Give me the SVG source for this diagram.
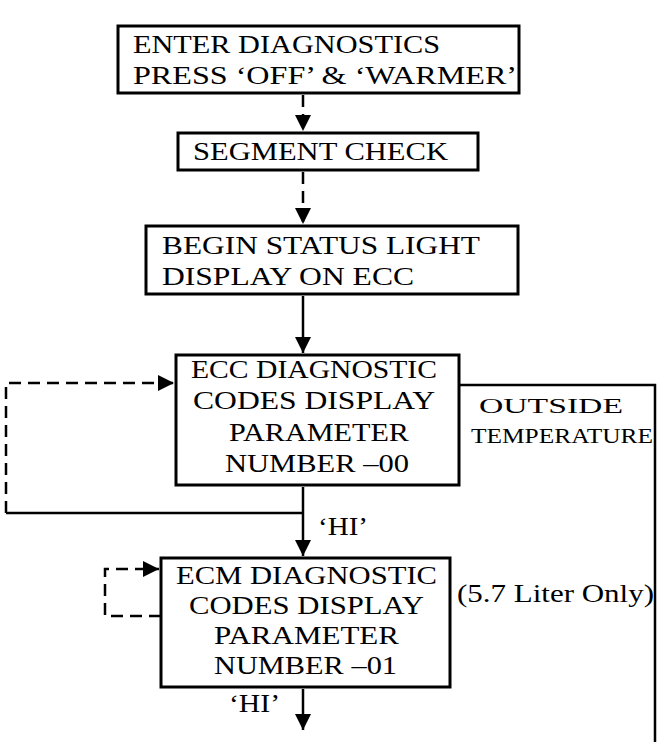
<svg xmlns="http://www.w3.org/2000/svg" width="665" height="752" viewBox="0 0 665 752">
<style>
.b{fill:#fff;stroke:#000;stroke-width:3}
.t{font-family:"Liberation Serif",serif;font-size:25px;fill:#000}
.s{font-size:20px}
.l{fill:none;stroke:#000;stroke-width:2.5}
.d{stroke-dasharray:12,7}
</style>
<defs>
<marker id="ab" viewBox="0 0 10 10" markerWidth="16" markerHeight="16" refX="10" refY="5" orient="auto" markerUnits="userSpaceOnUse"><path d="M0,0L10,5L0,10z"/></marker></defs>
<rect width="665" height="752" fill="#fff"/>
<g id="connectors">
<path class="l d" d="M303,95V131" marker-end="url(#ab)"/>
<path class="l d" d="M303,172V224" marker-end="url(#ab)"/>
<path class="l" d="M303,296V353" marker-end="url(#ab)"/>
<path class="l" d="M303,487V556" marker-end="url(#ab)"/>
<path class="l" d="M303,513H6"/>
<path class="l d" d="M6,513V383H174" marker-end="url(#ab)"/>
<path class="l" d="M459,385H655V742"/>
<path class="l d" d="M161,616H105V569H159" marker-end="url(#ab)"/>
<path class="l" d="M303,689V730" marker-end="url(#ab)"/>
</g>
<g id="n1"><rect class="b" x="118" y="26" width="401" height="67"/><text class="t" x="133" y="53" textLength="307" lengthAdjust="spacingAndGlyphs">ENTER DIAGNOSTICS</text><text class="t" x="133" y="84" textLength="384" lengthAdjust="spacingAndGlyphs">PRESS ‘OFF’ &amp; ‘WARMER’</text></g>
<g id="n2"><rect class="b" x="178" y="133" width="300" height="37"/><text class="t" x="193" y="160" textLength="255" lengthAdjust="spacingAndGlyphs">SEGMENT CHECK</text></g>
<g id="n3"><rect class="b" x="146" y="226" width="372" height="68"/><text class="t" x="162" y="254" textLength="318" lengthAdjust="spacingAndGlyphs">BEGIN STATUS LIGHT</text><text class="t" x="162" y="285" textLength="252" lengthAdjust="spacingAndGlyphs">DISPLAY ON ECC</text></g>
<g id="n4"><rect class="b" x="176" y="355" width="283" height="130"/>
<text class="t" x="191" y="378" textLength="246" lengthAdjust="spacingAndGlyphs">ECC DIAGNOSTIC</text>
<text class="t" x="193" y="409" textLength="242" lengthAdjust="spacingAndGlyphs">CODES DISPLAY</text>
<text class="t" x="229" y="441" textLength="180" lengthAdjust="spacingAndGlyphs">PARAMETER</text>
<text class="t" x="225" y="472" textLength="184" lengthAdjust="spacingAndGlyphs">NUMBER –00</text></g>
<g id="n5"><rect class="b" x="161" y="558" width="289" height="129"/>
<text class="t" x="176" y="584" textLength="261" lengthAdjust="spacingAndGlyphs">ECM DIAGNOSTIC</text>
<text class="t" x="189" y="614" textLength="235" lengthAdjust="spacingAndGlyphs">CODES DISPLAY</text>
<text class="t" x="214" y="644" textLength="185" lengthAdjust="spacingAndGlyphs">PARAMETER</text>
<text class="t" x="214" y="674" textLength="183" lengthAdjust="spacingAndGlyphs">NUMBER –01</text></g>
<g id="labels">
<text class="t s" x="479" y="413" textLength="144" lengthAdjust="spacingAndGlyphs">OUTSIDE</text>
<text class="t s" x="471" y="443" textLength="182" lengthAdjust="spacingAndGlyphs">TEMPERATURE</text>
<text class="t" x="318" y="535" textLength="50" lengthAdjust="spacingAndGlyphs">‘HI’</text>
<text class="t" x="229" y="712" textLength="51" lengthAdjust="spacingAndGlyphs">‘HI’</text>
<text class="t" x="457" y="602" textLength="197" lengthAdjust="spacingAndGlyphs">(5.7 Liter Only)</text>
</g>
</svg>
